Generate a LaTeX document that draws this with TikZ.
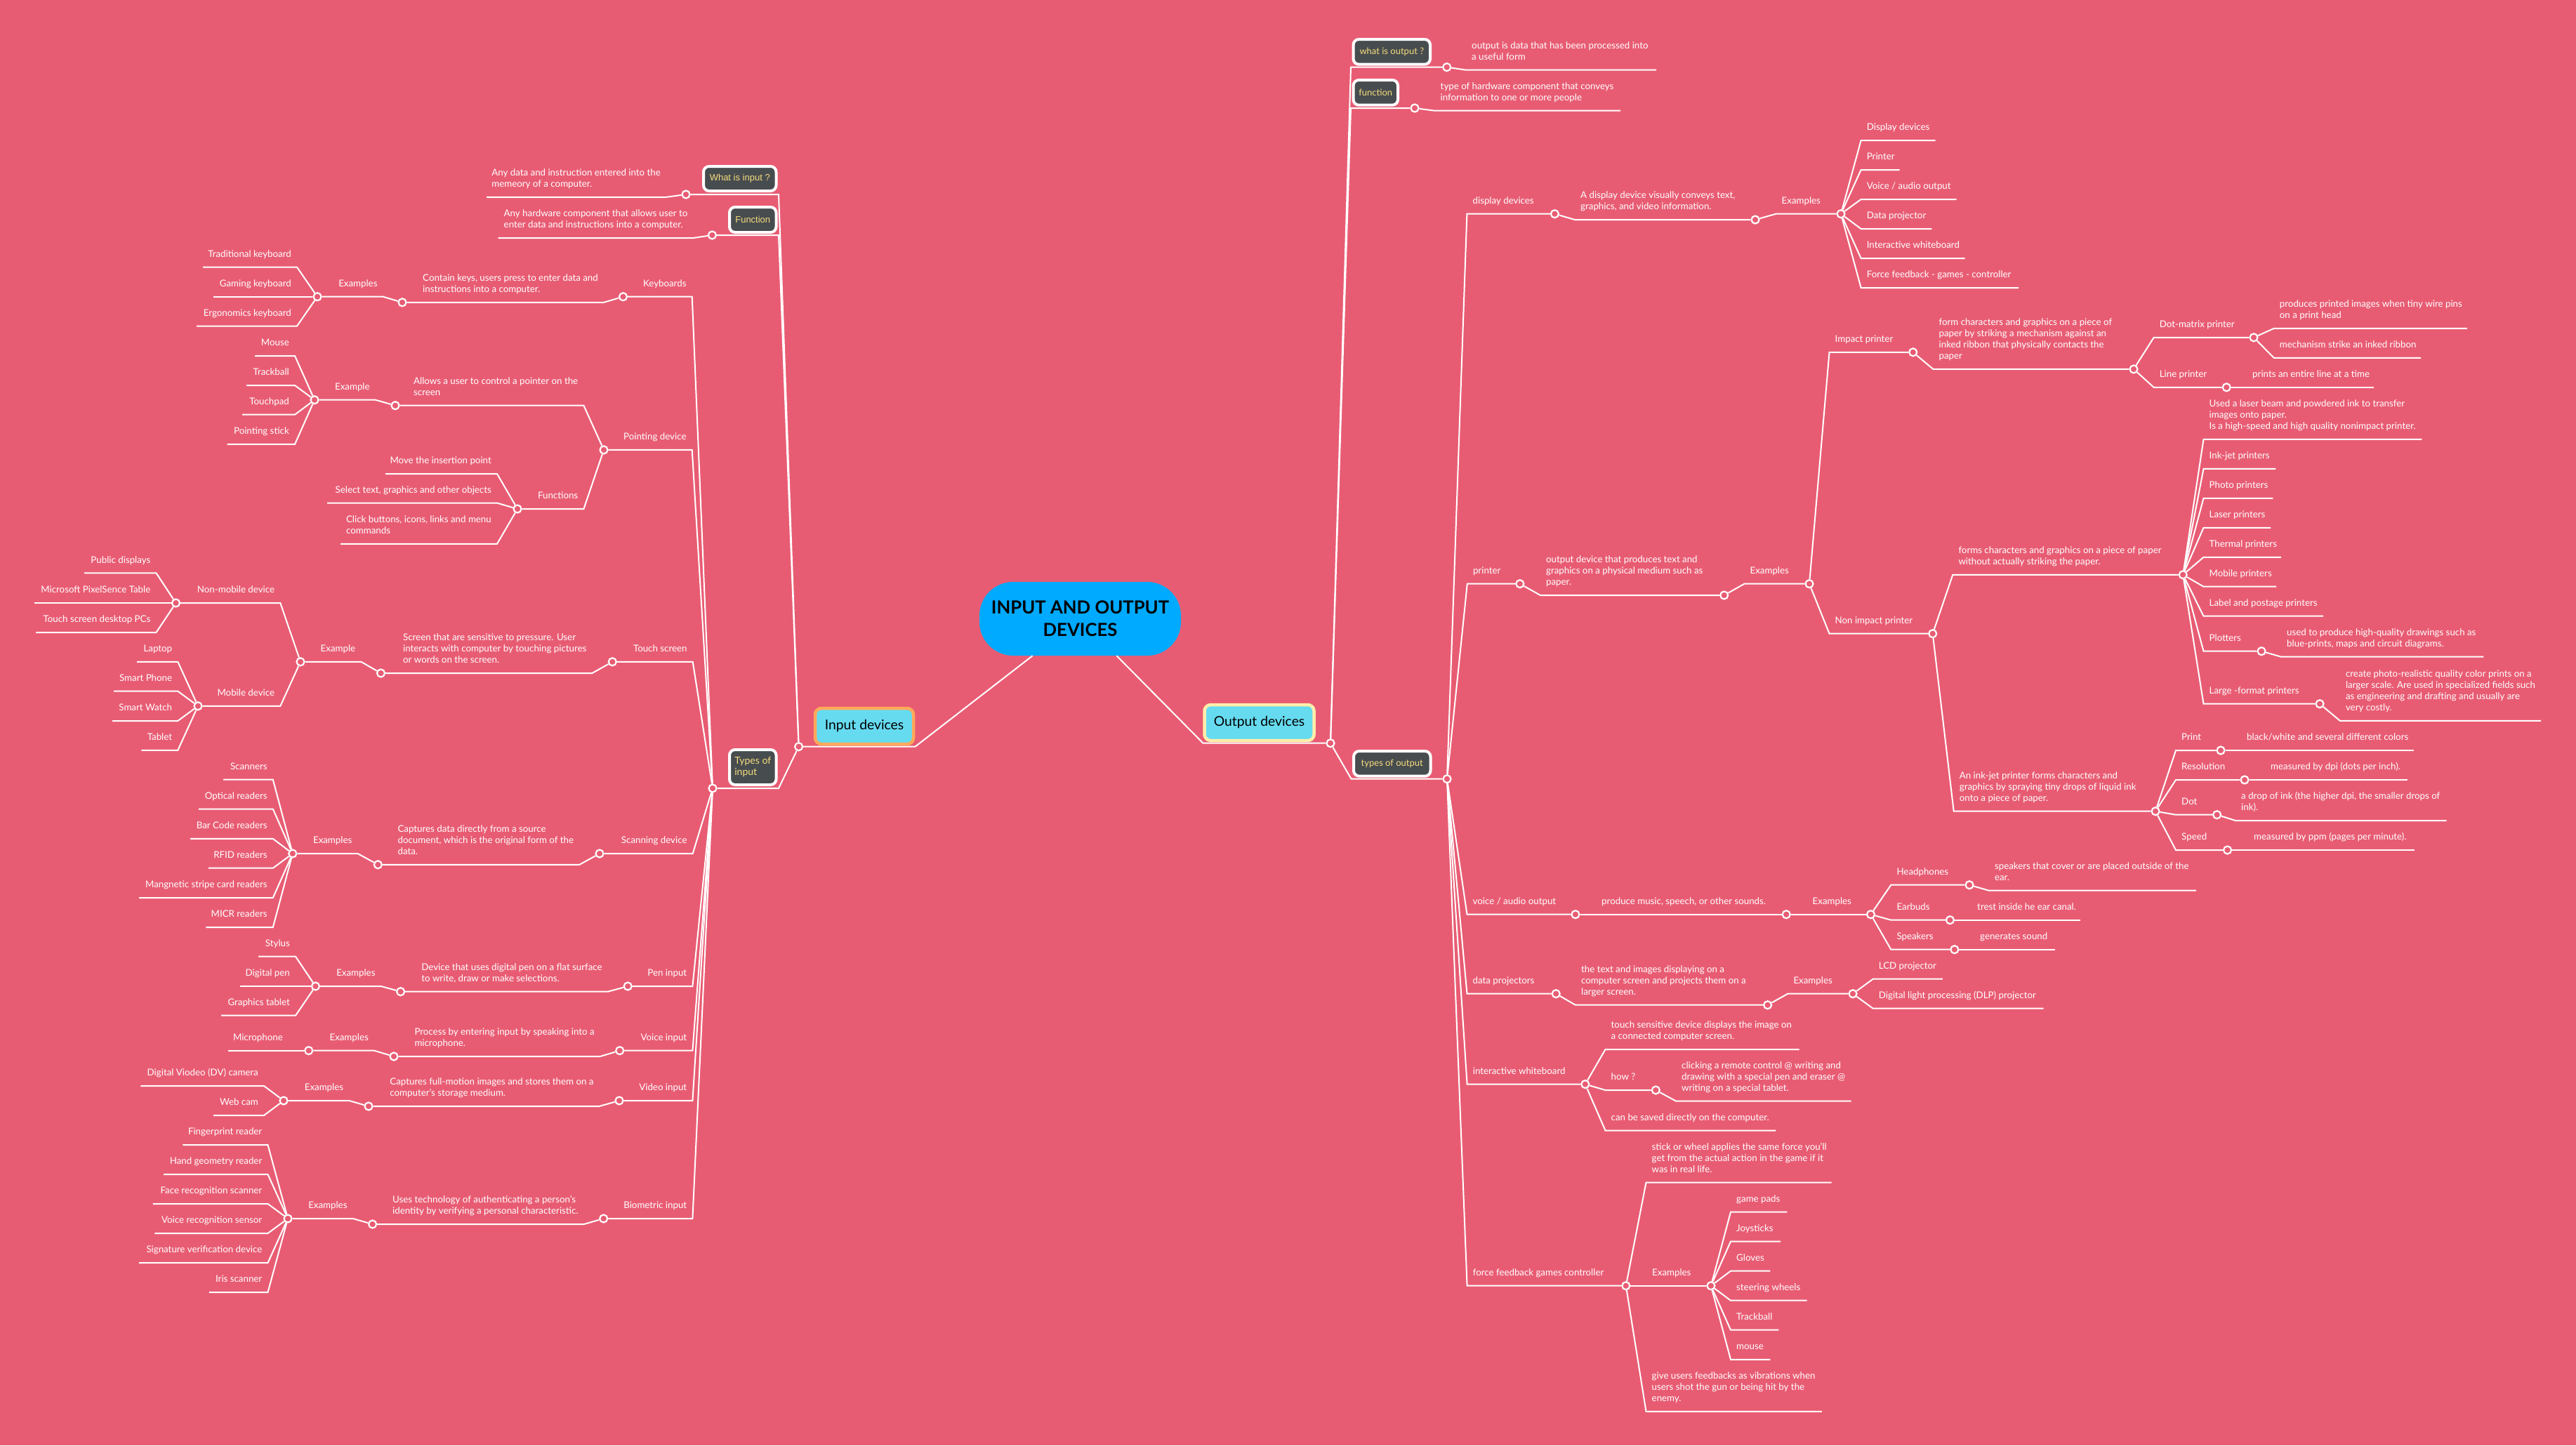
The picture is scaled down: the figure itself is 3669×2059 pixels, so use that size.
\documentclass[tikz,border=0pt]{standalone}
\usepackage{fontspec}
\setmainfont{Lato}
\newfontfamily\arialf{Liberation Sans}
\definecolor{bgc}{HTML}{E85C73}
\definecolor{boxd}{HTML}{474C4F}
\definecolor{yel}{HTML}{F5DD7E}
\definecolor{rootc}{HTML}{00AAFF}
\definecolor{cyanb}{HTML}{66DBF0}
\tikzset{
  link/.style={draw=white,line width=2pt,line join=miter},
  knob/.style={circle,draw=white,line width=2.2pt,fill=bgc,minimum size=11pt,inner sep=0pt},
  lab/.style={text=white,align=left,inner sep=0pt,text depth=0pt,font=\fontsize{13.3}{16}\selectfont},
  darkbox/.style={fill=boxd,draw=white,line width=4pt,rounded corners=8pt,text=yel,align=left,inner sep=0pt,font=\fontsize{13}{16}\selectfont},
  mainbox/.style={fill=cyanb,line width=4.5pt,rounded corners=9pt,text=black,inner sep=0pt,font=\fontsize{19.3}{22}\selectfont},
  rootbox/.style={fill=rootc,rounded corners=48pt,text=black,align=center,inner sep=0pt,font=\fontsize{25.7}{32}\selectfont\bfseries},
}
% leaf going left / right: id, parent, near x, y, far x, text
\newcommand\TL[6]{\coordinate (#1-a) at (#3,#4);\coordinate (#1-b) at (#5,#4);
  \draw[link] (#2) -- (#1-a) -- (#1-b);
  \node[lab,anchor=south east] (#1-t) at (#3-8,#4-14) {#6};}
\newcommand\TR[6]{\coordinate (#1-a) at (#3,#4);\coordinate (#1-b) at (#5,#4);
  \draw[link] (#2) -- (#1-a) -- (#1-b);
  \node[lab,anchor=south west] (#1-t) at (#3+8,#4-14) {#6};}
% branch ending in a knob: id, parent, near x, y, knob x, text
\newcommand\KL[6]{\coordinate (#1-a) at (#3,#4);\node[knob] (#1) at (#5,#4) {};
  \draw[link] (#2) -- (#1-a) -- (#1);
  \node[lab,anchor=south east] (#1-t) at (#3-8,#4-14) {#6};}
\newcommand\KR[6]{\coordinate (#1-a) at (#3,#4);\node[knob] (#1) at (#5,#4) {};
  \draw[link] (#2) -- (#1-a) -- (#1);
  \node[lab,anchor=south west] (#1-t) at (#3+8,#4-14) {#6};}
% same without a label
\newcommand\BK[5]{\coordinate (#1-a) at (#3,#4);\node[knob] (#1) at (#5,#4) {};
  \draw[link] (#2) -- (#1-a) -- (#1);}
% box: id, style, x1, y1, x2, y2, text (outer edges)
\newcommand\BX[7]{\node[#2,minimum width={(#5-#3-4)*1pt},minimum height={(#6-#4-4)*1pt}] (#1) at ({(#3+#5)/2},{(#4+#6)/2}) {#7};}
\begin{document}
\begin{tikzpicture}[x=1pt,y=-1pt]
\fill[bgc] (0,0) rectangle (3669,2059);
\useasboundingbox (0,0) rectangle (3669,2059);
\node[rootbox,minimum width=287pt,minimum height=105pt] (root) at (1538.5,881.5) {INPUT AND OUTPUT\\DEVICES};
% ---------- INPUT ----------
\BK{inp}{root}{1303.4}{1063.7}{1137.6}
\BX{inbox}{mainbox,draw={rgb,255:red,255;green,169;blue,90}}{1159}{1007}{1303}{1062}{Input devices}
\BK{wi}{inp}{1109}{277}{977}
\BX{wibox}{darkbox,font=\arialf\fontsize{13}{16}\selectfont}{1000}{235}{1107.5}{274}{What is input ?}
\TL{wit}{wi}{949}{280.8}{693}{Any data and instruction entered into the\\memeory of a computer.}
\BK{fi}{inp}{1109}{335}{1014.4}
\BX{fibox}{darkbox,font=\arialf\fontsize{13}{16}\selectfont}{1037}{293}{1107.5}{333}{Function}
\TL{fit}{fi}{987.6}{339}{709.6}{Any hardware component that allows user to\\enter data and instructions into a computer.}
\BK{ti}{inp}{1109}{1123}{1015}
\BX{tibox}{darkbox,font=\fontsize{14}{16}\selectfont}{1037}{1066}{1107.5}{1120}{Types of\\input}
% Keyboards
\KL{kb}{ti}{985.7}{422.7}{887.5}{Keyboards}
\KL{kbd}{kb}{860}{430.8}{573}{Contain keys, users press to enter data and\\instructions into a computer.}
\KL{kbe}{kbd}{545.7}{422.7}{452}{Examples}
\TL{kb1}{kbe}{423}{380.6}{289}{Traditional keyboard}
\TL{kb2}{kbe}{423}{422.7}{304}{Gaming keyboard}
\TL{kb3}{kbe}{423}{464.5}{280}{Ergonomics keyboard}
% Pointing
\KL{pt}{ti}{985.7}{640.9}{860}{Pointing device}
\KL{ptd}{pt}{831.4}{577.7}{563}{Allows a user to control a pointer on the\\screen}
\KL{pte}{ptd}{534.8}{569.7}{448}{Example}
\TL{pt1}{pte}{420}{507}{363}{Mouse}
\TL{pt2}{pte}{420}{549}{351}{Trackball}
\TL{pt3}{pte}{420}{590.7}{345}{Touchpad}
\TL{pt4}{pte}{420}{632.8}{323.7}{Pointing stick}
\KL{ptf}{pt}{831.4}{725}{737}{Functions}
\TL{pf1}{ptf}{708}{675}{549}{Move the insertion point}
\TL{pf2}{ptf}{708}{716.6}{466}{Select text, graphics and other objects}
\TL{pf3}{ptf}{708}{774.8}{485}{Click buttons, icons, links and menu\\commands}
% Touch screen
\KL{ts}{ti}{986.7}{942.8}{872.3}{Touch screen}
\KL{tsd}{ts}{843.5}{959}{542.5}{Screen that are sensitive to pressure. User\\interacts with computer by touching pictures\\or words on the screen.}
\KL{tse}{tsd}{514.4}{942.8}{428}{Example}
\KL{tsn}{tse}{399.3}{859}{250.5}{Non-mobile device}
\TL{tn1}{tsn}{222.5}{816.3}{120}{Public displays}
\TL{tn2}{tsn}{222.5}{859}{49}{Microsoft PixelSence Table}
\TL{tn3}{tsn}{222.5}{901}{51}{Touch screen desktop PCs}
\KL{tsm}{tse}{399.3}{1005.8}{282}{Mobile device}
\TL{tm1}{tsm}{253.3}{942.8}{195}{Laptop}
\TL{tm2}{tsm}{253.3}{984.7}{162}{Smart Phone}
\TL{tm3}{tsm}{253.3}{1027}{160}{Smart Watch}
\TL{tm4}{tsm}{253.3}{1068.8}{201.4}{Tablet}
% Scanning
\KL{sc}{ti}{986.7}{1216}{854}{Scanning device}
\KL{scd}{sc}{825.3}{1231.8}{538.3}{Captures data directly from a source\\document, which is the original form of the\\data.}
\KL{sce}{scd}{509.5}{1216}{416.8}{Examples}
\TL{sc1}{sce}{388.8}{1110.7}{318}{Scanners}
\TL{sc2}{sce}{388.8}{1152.6}{282.8}{Optical readers}
\TL{sc3}{sce}{388.8}{1194.9}{271}{Bar Code readers}
\TL{sc4}{sce}{388.8}{1236.7}{296.8}{RFID readers}
\TL{sc5}{sce}{388.8}{1279}{198}{Mangnetic stripe card readers}
\TL{sc6}{sce}{388.8}{1321}{293.3}{MICR readers}
% Pen
\KL{pn}{ti}{986.4}{1405}{894.2}{Pen input}
\KL{pnd}{pn}{865.8}{1412.7}{570.6}{Device that uses digital pen on a flat surface\\to write, draw or make selections.}
\KL{pne}{pnd}{542.7}{1405}{449.4}{Examples}
\TL{pn1}{pne}{421}{1362.7}{368}{Stylus}
\TL{pn2}{pne}{421}{1405}{342}{Digital pen}
\TL{pn3}{pne}{421}{1446.7}{315}{Graphics tablet}
% Voice
\KL{vo}{ti}{986.4}{1496.7}{882.7}{Voice input}
\KL{vod}{vo}{854.8}{1505}{561}{Process by entering input by speaking into a\\microphone.}
\KL{voe}{vod}{533}{1496.7}{439.7}{Examples}
\TL{vo1}{voe}{411}{1496.7}{325}{Microphone}
% Video
\KL{vi}{ti}{986.4}{1568}{882}{Video input}
\KL{vid}{vi}{853.6}{1576}{525}{Captures full-motion images and stores them on a\\computer's storage medium.}
\KL{vie}{vid}{497.3}{1568}{404}{Examples}
\TL{vi1}{vie}{376}{1547}{200.3}{Digital Viodeo (DV) camera}
\TL{vi2}{vie}{376}{1589}{304}{Web cam}
% Biometric
\KL{bi}{ti}{986.4}{1736}{859.7}{Biometric input}
\KL{bid}{bi}{831.8}{1744}{530.6}{Uses technology of authenticating a person's\\identity by verifying a personal characteristic.}
\KL{bie}{bid}{502.7}{1736}{410}{Examples}
\TL{bi1}{bie}{381.5}{1631}{260.3}{Fingerprint reader}
\TL{bi2}{bie}{381.5}{1673}{233}{Hand geometry reader}
\TL{bi3}{bie}{381.5}{1715}{217.9}{Face recognition scanner}
\TL{bi4}{bie}{381.5}{1757}{220.3}{Voice recognition sensor}
\TL{bi5}{bie}{381.5}{1799}{197.9}{Signature verification device}
\TL{bi6}{bie}{381.5}{1841}{297.9}{Iris scanner}
% ---------- OUTPUT ----------
\BK{out}{root}{1713.5}{1058.7}{1895}
\BX{outbox}{mainbox,draw={rgb,255:red,255;green,238;blue,170}}{1713.5}{1002}{1873.6}{1057}{Output devices}
\BK{wo}{out}{1924}{95.7}{2060.7}
\BX{wobox}{darkbox}{1925.5}{54}{2039}{93.7}{what is output ?}
\TR{wot}{wo}{2088}{99.7}{2359}{output is data that has been processed into\\a useful form}
\BK{fo}{out}{1924}{154}{2015}
\BX{fobox}{darkbox}{1925.5}{112}{1993}{151.7}{function}
\TR{fot}{fo}{2043.5}{157.7}{2308}{type of hardware component that conveys\\information to one or more people}
\BK{to}{out}{1924.6}{1109.7}{2061}
\BX{tobox}{darkbox}{1926}{1068}{2039.5}{1107.7}{types of output}
% Display
\KR{dd}{to}{2089.4}{304.7}{2214.4}{display devices}
\KR{ddd}{dd}{2243}{313}{2500}{A display device visually conveys text,\\graphics, and video information.}
\KR{dde}{ddd}{2529.5}{304.7}{2622}{Examples}
\TR{dd1}{dde}{2650.6}{200}{2756.5}{Display devices}
\TR{dd2}{dde}{2650.6}{242}{2705.5}{Printer}
\TR{dd3}{dde}{2650.6}{284}{2786.5}{Voice / audio output}
\TR{dd4}{dde}{2650.6}{326}{2751.4}{Data projector}
\TR{dd5}{dde}{2650.6}{368}{2798.6}{Interactive whiteboard}
\TR{dd6}{dde}{2650.6}{410}{2875}{Force feedback - games - controller}
% Printer
\KR{pr}{to}{2089.8}{831.7}{2164.8}{printer}
\KR{prd}{pr}{2193.9}{848}{2455.7}{output device that produces text and\\graphics on a physical medium such as\\paper.}
\KR{pre}{prd}{2484.4}{831.7}{2577}{Examples}
\KR{im}{pre}{2605.5}{501.8}{2724.7}{Impact printer}
\KR{imd}{im}{2753.4}{525.9}{3039}{form characters and graphics on a piece of\\paper by striking a mechanism against an\\inked ribbon that physically contacts the\\paper}
\KR{dm}{imd}{3067.6}{480.8}{3210}{Dot-matrix printer}
\TR{dm1}{dm}{3238.7}{467.9}{3514}{produces printed images when tiny wire pins\\on a print head}
\TR{dm2}{dm}{3238.7}{509.8}{3448}{mechanism strike an inked ribbon}
\KR{lp}{imd}{3067.6}{551.8}{3171.2}{Line printer}
\TR{lp1}{lp}{3200}{551.8}{3380.5}{prints an entire line at a time}
\KR{ni}{pre}{2605.5}{902.7}{2752.7}{Non impact printer}
\KR{nid}{ni}{2781.3}{818.8}{3109.2}{forms characters and graphics on a piece of paper\\without actually striking the paper.}
\TR{np1}{nid}{3138.5}{625.9}{3449.4}{Used a laser beam and powdered ink to transfer\\images onto paper.\\Is a high-speed and high quality nonimpact printer.}
\TR{np2}{nid}{3138.5}{667.9}{3241.4}{Ink-jet printers}
\TR{np3}{nid}{3138.5}{709.8}{3237.4}{Photo printers}
\TR{np4}{nid}{3138.5}{751.8}{3234}{Laser printers}
\TR{np5}{nid}{3138.5}{793.8}{3249}{Thermal printers}
\TR{np6}{nid}{3138.5}{835.7}{3242}{Mobile printers}
\TR{np7}{nid}{3138.5}{877.7}{3309}{Label and postage printers}
\KR{np8}{nid}{3138.5}{927.7}{3221}{Plotters}
\TR{np8t}{np8}{3249}{935.7}{3537.3}{used to produce high-quality drawings such as\\blue-prints, maps and circuit diagrams.}
\KR{np9}{nid}{3138.5}{1002.7}{3304}{Large -format printers}
\TR{np9t}{np9}{3332.8}{1026.8}{3619}{create photo-realistic quality color prints on a\\larger scale. Are used in specialized fields such\\as engineering and drafting and usually are\\very costly.}
\KR{ij}{ni}{2782.7}{1155.7}{3070}{An ink-jet printer forms characters and\\graphics by spraying tiny drops of liquid ink\\onto a piece of paper.}
\KR{ij1}{ij}{3099}{1069}{3163}{Print}
\TR{ij1t}{ij1}{3192}{1069}{3437.7}{black/white and several different colors}
\KR{ij2}{ij}{3099}{1111}{3197}{Resolution}
\TR{ij2t}{ij2}{3226}{1111}{3429}{measured by dpi (dots per inch).}
\KR{ij3}{ij}{3099}{1160.7}{3157.6}{Dot}
\TR{ij3t}{ij3}{3184}{1169}{3484.6}{a drop of ink (the higher dpi, the smaller drops of\\ink).}
\KR{ij4}{ij}{3099}{1211}{3172.5}{Speed}
\TR{ij4t}{ij4}{3202}{1211}{3438.8}{measured by ppm (pages per minute).}
% Voice / audio
\KR{va}{to}{2089.5}{1302.7}{2243.9}{voice / audio output}
\KR{vad}{va}{2273}{1302.7}{2544.2}{produce music, speech, or other sounds.}
\KR{vae}{vad}{2573.5}{1302.7}{2664.5}{Examples}
\KR{va1}{vae}{2693.3}{1260.7}{2805}{Headphones}
\TR{va1t}{va1}{2832.8}{1268.7}{3127.8}{speakers that cover or are placed outside of the\\ear.}
\KR{va2}{vae}{2693.3}{1310.7}{2777.4}{Earbuds}
\TR{va2t}{va2}{2808}{1310.7}{2962.7}{trest inside he ear canal.}
\KR{va3}{vae}{2693.3}{1352.7}{2783.8}{Speakers}
\TR{va3t}{va3}{2812}{1352.7}{2926.5}{generates sound}
% Data projectors
\KR{dp}{to}{2089.5}{1415.7}{2216.2}{data projectors}
\KR{dpd}{dp}{2243.9}{1431.7}{2517.6}{the text and images displaying on a\\computer screen and projects them on a\\larger screen.}
\KR{dpe}{dpd}{2546.3}{1415.7}{2639}{Examples}
\TR{dp1}{dpe}{2667.7}{1394.7}{2766.8}{LCD projector}
\TR{dp2}{dpe}{2667.7}{1436.7}{2910.5}{Digital light processing (DLP) projector}
% Whiteboard
\KR{iw}{to}{2089.6}{1544.6}{2257.8}{interactive whiteboard}
\TR{iw1}{iw}{2286.5}{1495}{2562.6}{touch sensitive device displays the image on\\a connected computer screen.}
\KR{iw2}{iw}{2286.5}{1553}{2358.3}{how ?}
\TR{iw2t}{iw2}{2387}{1568.6}{2636.7}{clicking a remote control @ writing and\\drawing with a special pen and eraser @\\writing on a special tablet.}
\TR{iw3}{iw}{2286.5}{1610.6}{2529.3}{can be saved directly on the computer.}
% Force feedback
\KR{ff}{to}{2089.6}{1831.7}{2315.8}{force feedback games controller}
\TR{ff1}{ff}{2344.5}{1684.6}{2608.5}{stick or wheel applies the same force you'll\\get from the actual action in the game if it\\was in real life.}
\KR{ffe}{ff}{2345}{1831.7}{2436.9}{Examples}
\TR{fe1}{ffe}{2465}{1726.6}{2545.4}{game pads}
\TR{fe2}{ffe}{2465}{1768.6}{2536.2}{Joysticks}
\TR{fe3}{ffe}{2465}{1810.7}{2521.3}{Gloves}
\TR{fe4}{ffe}{2465}{1852.7}{2573.5}{steering wheels}
\TR{fe5}{ffe}{2465}{1894.7}{2533.4}{Trackball}
\TR{fe6}{ffe}{2465}{1936.8}{2521.3}{mouse}
\TR{ff3}{ff}{2344.5}{2010.8}{2594.8}{give users feedbacks as vibrations when\\users shot the gun or being hit by the\\enemy.}
\end{tikzpicture}
\end{document}
